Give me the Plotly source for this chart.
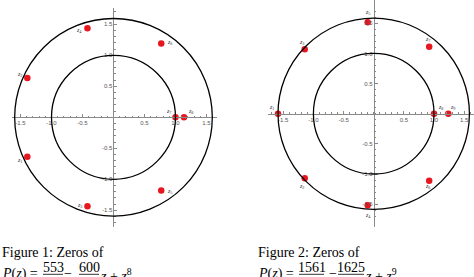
import numpy as np
import plotly.graph_objects as go

# ---------------- data ----------------
left_re = [-1.39, -1.39, -0.42, -0.42, 0.77, 0.77, 1.0, 1.137]
left_im = [-0.635, 0.634, -1.435, 1.435, -1.18, 1.19, 0.0, 0.0]
left_labels = ["1", "2", "3", "4", "5", "6", "7", "8"]
left_radii = [1.0, 1.594]

right_re = [-1.587, -1.144, -1.144, -0.10, -0.10, 0.92, 0.92, 1.0, 1.237]
right_im = [0.0, -1.07, 1.068, -1.52, 1.516, -1.11, 1.11, 0.0, 0.0]
right_labels = ["1", "2", "3", "4", "5", "6", "7", "8", "9"]
right_radii = [1.0, 1.587]

tick_vals = [-1.5, -1.0, -0.5, 0.5, 1.0, 1.5]
tick_text = ["-1.5", "-1.0", "-0.5", "0.5", "1.0", "1.5"]

# ---------------- style / layout ----------------
W, H = 474, 277
RED = "#e8161e"
AX = "#8a8a8a"
TXT = "#555555"
SERIF = "Liberation Serif"

# label offsets (px): (xanchor, xshift, yshift)
left_lab_off = [("right", -3, -4), ("right", -3, 3), ("right", -3, 1), ("right", -3, -2),
                ("left", 4, -1), ("left", 4, 1), ("right", -2, 6), ("left", 2, 6)]
right_lab_off = [("center", -7, 6), ("center", -3, -8), ("center", -3, 7), ("center", 0, -10),
                 ("center", 0, 10), ("center", -2, -6), ("center", -2, 7), ("center", 6, 6),
                 ("center", 4, 6)]

# panel geometry in pixels: x-span of axis, y-span of axis (top, bottom), data ranges
panels = [
    dict(px=(11.7, 216.7), py=(8.0, 226.7), xr=(-1.642, 1.665), yr=(-1.765, 1.763)),
    dict(px=(267.7, 474.0), py=(0.0, 226.7), xr=(-1.758, 1.663), yr=(-1.874, 1.886)),
]

fig = go.Figure()
layout = dict(width=W, height=H, margin=dict(l=0, r=0, t=0, b=0),
              paper_bgcolor="white", plot_bgcolor="white", showlegend=False)
shapes, annotations = [], []

datasets = [(left_re, left_im, left_labels, left_radii, left_lab_off),
            (right_re, right_im, right_labels, right_radii, right_lab_off)]

for i, (p, (re, im, labs, radii, offs)) in enumerate(zip(panels, datasets)):
    k = "" if i == 0 else str(i + 1)
    xd = [p["px"][0] / W, p["px"][1] / W]
    yd = [1 - p["py"][1] / H, 1 - p["py"][0] / H]
    x_zero = xd[0] + (0 - p["xr"][0]) / (p["xr"][1] - p["xr"][0]) * (xd[1] - xd[0])
    y_zero = yd[0] + (0 - p["yr"][0]) / (p["yr"][1] - p["yr"][0]) * (yd[1] - yd[0])
    common = dict(showgrid=False, zeroline=False, showline=True, linecolor=AX, linewidth=1,
                  tickmode="array", tickvals=tick_vals, ticktext=tick_text,
                  ticks="inside", ticklen=3, tickcolor=AX, tickwidth=1,
                  tickfont=dict(size=6, color=TXT, family="Liberation Sans"),
                  minor=dict(tickmode="array", tickvals=list(np.round(np.arange(-1.7, 1.71, 0.1), 2)),
                             ticks="inside", ticklen=1.5, tickcolor=AX))
    layout["xaxis" + k] = dict(common, domain=xd, range=list(p["xr"]), anchor="free",
                               position=y_zero, side="bottom", fixedrange=True)
    layout["yaxis" + k] = dict(common, domain=yd, range=list(p["yr"]), anchor="free",
                               position=x_zero, side="left", fixedrange=True)
    xref, yref = "x" + k, "y" + k
    for r in radii:
        shapes.append(dict(type="circle", xref=xref, yref=yref, x0=-r, y0=-r, x1=r, y1=r,
                           line=dict(color="black", width=1.3)))
    fig.add_trace(go.Scatter(x=re, y=im, mode="markers", xaxis=xref, yaxis=yref,
                             marker=dict(size=6.5, color=RED), cliponaxis=False,
                             hoverinfo="skip"))
    for xv, yv, lab, (xa, xs, ys) in zip(re, im, labs, offs):
        annotations.append(dict(x=xv, y=yv, xref=xref, yref=yref, showarrow=False,
                                text="<i>z</i><sub>" + lab + "</sub>", xanchor=xa,
                                xshift=xs, yshift=ys,
                                font=dict(size=6, color="#333", family=SERIF)))

# ---------------- captions ----------------
def P(x, y):
    return x / W, 1 - y / H

FS = 14
captions = [
    dict(x0=0, fig="Figure 1: Zeros of", num1="553", num2="600", exp="8",
         n1=(44, 62), minus=68, n2=(80, 98), zz=98),
    dict(x0=256, fig="Figure 2: Zeros of", num1="1561", num2="1625", exp="9",
         n1=(300, 323), minus=333, n2=(339, 363), zz=363),
]
for c in captions:
    fx, fy = P(c["x0"], 252.5)
    annotations.append(dict(x=fx, y=fy, xref="paper", yref="paper", text=c["fig"],
                            showarrow=False, xanchor="left", yanchor="middle",
                            font=dict(size=FS, color="black", family=SERIF)))
    ax, ay = P(c["x0"], 273.5)
    annotations.append(dict(x=ax, y=ay, xref="paper", yref="paper",
                            text="<i>P</i>(<i>z</i>) =", showarrow=False,
                            xanchor="left", yanchor="middle",
                            font=dict(size=FS, color="black", family=SERIF)))
    for num, (a, b) in ((c["num1"], c["n1"]), (c["num2"], c["n2"])):
        nx, ny = P((a + b) / 2, 267.5)
        annotations.append(dict(x=nx, y=ny, xref="paper", yref="paper", text=num,
                                showarrow=False, xanchor="center", yanchor="middle",
                                font=dict(size=FS, color="black", family=SERIF)))
        bx0, by = P(a - 1, 274.3)
        bx1, _ = P(b + 1, 274.3)
        shapes.append(dict(type="line", xref="paper", yref="paper", x0=bx0, x1=bx1,
                           y0=by, y1=by, line=dict(color="black", width=0.8)))
    mx, my = P(c["minus"], 273.5)
    annotations.append(dict(x=mx, y=my, xref="paper", yref="paper", text="−",
                            showarrow=False, xanchor="center", yanchor="middle",
                            font=dict(size=FS, color="black", family=SERIF)))
    zx, zy = P(c["zz"], 275)
    annotations.append(dict(x=zx, y=zy, xref="paper", yref="paper",
                            text="<i>z</i> + <i>z</i><sup>" + c["exp"] + "</sup> ,",
                            showarrow=False, xanchor="left", yanchor="middle",
                            font=dict(size=FS, color="black", family=SERIF)))

layout["shapes"] = shapes
layout["annotations"] = annotations
fig.update_layout(**layout)
fig.write_html("out.html")
